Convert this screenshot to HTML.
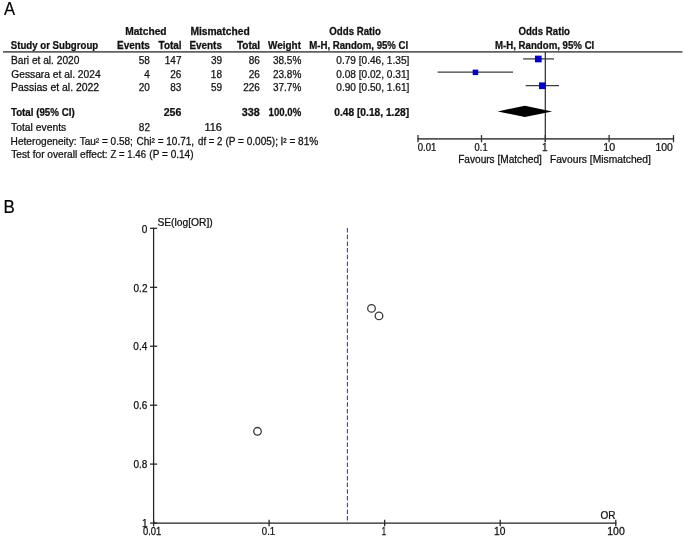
<!DOCTYPE html>
<html><head><meta charset="utf-8"><title>Forest and funnel plot</title>
<style>
html,body{margin:0;padding:0;background:#fff}
svg{display:block}
text{font-family:"Liberation Sans",sans-serif}
</style></head>
<body>
<svg width="685" height="538" viewBox="0 0 685 538">
<rect width="685" height="538" fill="#fff"/>
<line x1="3" y1="51.9" x2="682.4" y2="51.9" stroke="#606060" stroke-width="1.9"/>
<line x1="545.3" y1="52" x2="545.3" y2="141.8" stroke="#2a2a2a" stroke-width="1.2"/>
<line x1="417.4" y1="138.8" x2="674.1" y2="138.8" stroke="#555" stroke-width="1.7"/>
<line x1="418.0" y1="135.1" x2="418.0" y2="142.3" stroke="#333" stroke-width="1.3"/>
<line x1="481.5" y1="135.1" x2="481.5" y2="142.3" stroke="#333" stroke-width="1.3"/>
<line x1="545.3" y1="135.1" x2="545.3" y2="142.3" stroke="#333" stroke-width="1.3"/>
<line x1="609.1" y1="135.1" x2="609.1" y2="142.3" stroke="#333" stroke-width="1.3"/>
<line x1="673.5" y1="135.1" x2="673.5" y2="142.3" stroke="#333" stroke-width="1.3"/>
<line x1="523.1" y1="58.9" x2="554.0" y2="58.9" stroke="#3c3c3c" stroke-width="1.25"/>
<rect x="534.95" y="55.65" width="6.7" height="6.7" fill="#0000c8"/>
<line x1="437.6" y1="72.0" x2="513.0" y2="72.0" stroke="#3c3c3c" stroke-width="1.25"/>
<rect x="472.70" y="69.60" width="5.5" height="5.5" fill="#0000c8"/>
<line x1="525.7" y1="85.7" x2="559.0" y2="85.7" stroke="#3c3c3c" stroke-width="1.25"/>
<rect x="539.05" y="82.40" width="6.7" height="6.7" fill="#0000c8"/>
<polygon points="497.7,111.4 524.9,105.7 552.1,111.4 524.9,117.1" fill="#000"/>
<line x1="153.6" y1="227.7" x2="153.6" y2="523.7" stroke="#222" stroke-width="1.25"/>
<line x1="153.1" y1="523.1" x2="616.4" y2="523.1" stroke="#222" stroke-width="1.25"/>
<line x1="150.0" y1="228.3" x2="157.2" y2="228.3" stroke="#222" stroke-width="1.25"/>
<line x1="150.0" y1="287.3" x2="157.2" y2="287.3" stroke="#222" stroke-width="1.25"/>
<line x1="150.0" y1="346.2" x2="157.2" y2="346.2" stroke="#222" stroke-width="1.25"/>
<line x1="150.0" y1="405.2" x2="157.2" y2="405.2" stroke="#222" stroke-width="1.25"/>
<line x1="150.0" y1="464.1" x2="157.2" y2="464.1" stroke="#222" stroke-width="1.25"/>
<line x1="150.0" y1="523.1" x2="157.2" y2="523.1" stroke="#222" stroke-width="1.25"/>
<line x1="153.6" y1="519.7" x2="153.6" y2="526.3" stroke="#222" stroke-width="1.25"/>
<line x1="269.1" y1="519.7" x2="269.1" y2="526.3" stroke="#222" stroke-width="1.25"/>
<line x1="384.7" y1="519.7" x2="384.7" y2="526.3" stroke="#222" stroke-width="1.25"/>
<line x1="500.2" y1="519.7" x2="500.2" y2="526.3" stroke="#222" stroke-width="1.25"/>
<line x1="615.8" y1="519.7" x2="615.8" y2="526.3" stroke="#222" stroke-width="1.25"/>
<line x1="347.4" y1="228.0" x2="347.4" y2="523.1" stroke="#3a3ad8" stroke-width="1.1" stroke-dasharray="4.5 2.2"/>
<circle cx="371.5" cy="308.4" r="3.8" fill="none" stroke="#3a3a3a" stroke-width="1.3"/>
<circle cx="379.0" cy="315.9" r="3.8" fill="none" stroke="#3a3a3a" stroke-width="1.3"/>
<circle cx="257.5" cy="431.3" r="3.8" fill="none" stroke="#3a3a3a" stroke-width="1.3"/>
<text transform="translate(4.00 14.90) scale(0.8740 1)" font-size="19.0" fill="#000" stroke="#000" stroke-width="0.15">A</text>
<text transform="translate(3.54 213.20) scale(0.9100 1)" font-size="18.6" fill="#000" stroke="#000" stroke-width="0.2">B</text>
<text transform="translate(125.19 35.30) scale(1.0215 1)" font-size="10" font-weight="bold" fill="#111" stroke="#111" stroke-width="0.25">Matched</text>
<text transform="translate(190.38 35.30) scale(1.0285 1)" font-size="10" font-weight="bold" fill="#111" stroke="#111" stroke-width="0.25">Mismatched</text>
<text transform="translate(329.31 35.30) scale(0.9691 1)" font-size="10" font-weight="bold" fill="#111" stroke="#111" stroke-width="0.25">Odds Ratio</text>
<text transform="translate(518.41 35.30) scale(0.9691 1)" font-size="10" font-weight="bold" fill="#111" stroke="#111" stroke-width="0.25">Odds Ratio</text>
<text transform="translate(10.71 48.80) scale(0.9684 1)" font-size="10" font-weight="bold" fill="#111" stroke="#111" stroke-width="0.25">Study or Subgroup</text>
<text transform="translate(117.00 48.80) scale(1.0022 1)" font-size="10" font-weight="bold" fill="#111" stroke="#111" stroke-width="0.25">Events</text>
<text transform="translate(158.60 48.80) scale(0.9970 1)" font-size="10" font-weight="bold" fill="#111" stroke="#111" stroke-width="0.25">Total</text>
<text transform="translate(189.40 48.80) scale(0.9927 1)" font-size="10" font-weight="bold" fill="#111" stroke="#111" stroke-width="0.25">Events</text>
<text transform="translate(236.90 48.80) scale(1.0060 1)" font-size="10" font-weight="bold" fill="#111" stroke="#111" stroke-width="0.25">Total</text>
<text transform="translate(268.10 48.80) scale(0.9935 1)" font-size="10" font-weight="bold" fill="#111" stroke="#111" stroke-width="0.25">Weight</text>
<text transform="translate(309.22 48.80) scale(0.9645 1)" font-size="10" font-weight="bold" fill="#111" stroke="#111" stroke-width="0.25">M-H, Random, 95% CI</text>
<text transform="translate(494.92 48.80) scale(0.9684 1)" font-size="10" font-weight="bold" fill="#111" stroke="#111" stroke-width="0.25">M-H, Random, 95% CI</text>
<text transform="translate(10.99 64.30) scale(1.0181 1)" font-size="10" fill="#111" stroke="#111" stroke-width="0.25">Bari et al. 2020</text>
<text transform="translate(138.74 64.30) scale(1.0000 1)" font-size="10" fill="#111" stroke="#111" stroke-width="0.25">58</text>
<text transform="translate(164.78 64.30) scale(1.0000 1)" font-size="10" fill="#111" stroke="#111" stroke-width="0.25">147</text>
<text transform="translate(210.94 64.30) scale(1.0000 1)" font-size="10" fill="#111" stroke="#111" stroke-width="0.25">39</text>
<text transform="translate(248.74 64.30) scale(1.0000 1)" font-size="10" fill="#111" stroke="#111" stroke-width="0.25">86</text>
<text transform="translate(272.94 64.30) scale(1.0000 1)" font-size="10" fill="#111" stroke="#111" stroke-width="0.25">38.5%</text>
<text transform="translate(336.30 64.30) scale(1.0112 1)" font-size="10" fill="#111" stroke="#111" stroke-width="0.25">0.79 [0.46, 1.35]</text>
<text transform="translate(11.29 77.70) scale(1.0253 1)" font-size="10" fill="#111" stroke="#111" stroke-width="0.25">Gessara et al. 2024</text>
<text transform="translate(144.20 77.70) scale(1.0000 1)" font-size="10" fill="#111" stroke="#111" stroke-width="0.25">4</text>
<text transform="translate(170.24 77.70) scale(1.0000 1)" font-size="10" fill="#111" stroke="#111" stroke-width="0.25">26</text>
<text transform="translate(210.84 77.70) scale(1.0000 1)" font-size="10" fill="#111" stroke="#111" stroke-width="0.25">18</text>
<text transform="translate(248.74 77.70) scale(1.0000 1)" font-size="10" fill="#111" stroke="#111" stroke-width="0.25">26</text>
<text transform="translate(272.94 77.70) scale(1.0000 1)" font-size="10" fill="#111" stroke="#111" stroke-width="0.25">23.8%</text>
<text transform="translate(336.30 77.70) scale(1.0112 1)" font-size="10" fill="#111" stroke="#111" stroke-width="0.25">0.08 [0.02, 0.31]</text>
<text transform="translate(10.96 91.10) scale(1.0440 1)" font-size="10" fill="#111" stroke="#111" stroke-width="0.25">Passias et al. 2022</text>
<text transform="translate(138.74 91.10) scale(1.0000 1)" font-size="10" fill="#111" stroke="#111" stroke-width="0.25">20</text>
<text transform="translate(170.24 91.10) scale(1.0000 1)" font-size="10" fill="#111" stroke="#111" stroke-width="0.25">83</text>
<text transform="translate(210.94 91.10) scale(1.0000 1)" font-size="10" fill="#111" stroke="#111" stroke-width="0.25">59</text>
<text transform="translate(243.18 91.10) scale(1.0000 1)" font-size="10" fill="#111" stroke="#111" stroke-width="0.25">226</text>
<text transform="translate(272.94 91.10) scale(1.0000 1)" font-size="10" fill="#111" stroke="#111" stroke-width="0.25">37.7%</text>
<text transform="translate(336.30 91.10) scale(1.0112 1)" font-size="10" fill="#111" stroke="#111" stroke-width="0.25">0.90 [0.50, 1.61]</text>
<text transform="translate(10.90 115.70) scale(0.9762 1)" font-size="10" font-weight="bold" fill="#111" stroke="#111" stroke-width="0.25">Total (95% CI)</text>
<text transform="translate(163.68 115.70) scale(1.0610 1)" font-size="10" font-weight="bold" fill="#111" stroke="#111" stroke-width="0.25">256</text>
<text transform="translate(241.78 115.70) scale(1.0787 1)" font-size="10" font-weight="bold" fill="#111" stroke="#111" stroke-width="0.25">338</text>
<text transform="translate(268.62 115.70) scale(0.9600 1)" font-size="10" font-weight="bold" fill="#111" stroke="#111" stroke-width="0.25">100.0%</text>
<text transform="translate(334.29 115.70) scale(1.0213 1)" font-size="10" font-weight="bold" fill="#111" stroke="#111" stroke-width="0.25">0.48 [0.18, 1.28]</text>
<text transform="translate(11.09 131.10) scale(1.0347 1)" font-size="10" fill="#111" stroke="#111" stroke-width="0.25">Total events</text>
<text transform="translate(138.84 131.10) scale(1.0000 1)" font-size="10" fill="#111" stroke="#111" stroke-width="0.25">82</text>
<text transform="translate(204.43 131.10) scale(1.0954 1)" font-size="10" fill="#111" stroke="#111" stroke-width="0.25">116</text>
<text transform="translate(10.59 144.50) scale(1.0148 1)" font-size="10" fill="#111" stroke="#111" stroke-width="0.25">Heterogeneity:</text>
<text transform="translate(79.70 144.50) scale(1.0017 1)" font-size="10" fill="#111" stroke="#111" stroke-width="0.25">Tau² = 0.58;</text>
<text transform="translate(136.50 144.50) scale(1.0026 1)" font-size="10" fill="#111" stroke="#111" stroke-width="0.25">Chi² = 10.71,</text>
<text transform="translate(198.12 144.50) scale(0.9576 1)" font-size="10" fill="#111" stroke="#111" stroke-width="0.25">df = 2</text>
<text transform="translate(225.40 144.50) scale(1.0068 1)" font-size="10" fill="#111" stroke="#111" stroke-width="0.25">(P = 0.005);</text>
<text transform="translate(280.50 144.50) scale(1.0047 1)" font-size="10" fill="#111" stroke="#111" stroke-width="0.25">I² = 81%</text>
<text transform="translate(11.20 157.90) scale(1.0173 1)" font-size="10" fill="#111" stroke="#111" stroke-width="0.25">Test for overall effect:</text>
<text transform="translate(110.61 157.90) scale(0.9585 1)" font-size="10" fill="#111" stroke="#111" stroke-width="0.25">Z = 1.46</text>
<text transform="translate(149.30 157.90) scale(1.0079 1)" font-size="10" fill="#111" stroke="#111" stroke-width="0.25">(P = 0.14)</text>
<text transform="translate(417.71 150.90) scale(0.9625 1)" font-size="10" fill="#111" stroke="#111" stroke-width="0.25">0.01</text>
<text transform="translate(474.62 150.90) scale(0.9361 1)" font-size="10" fill="#111" stroke="#111" stroke-width="0.25">0.1</text>
<text transform="translate(542.10 150.90) scale(1.0000 1)" font-size="10" fill="#111" stroke="#111" stroke-width="0.25">1</text>
<text transform="translate(603.25 150.90) scale(1.0734 1)" font-size="10" fill="#111" stroke="#111" stroke-width="0.25">10</text>
<text transform="translate(655.47 150.90) scale(1.0433 1)" font-size="10" fill="#111" stroke="#111" stroke-width="0.25">100</text>
<text transform="translate(458.19 163.30) scale(1.0106 1)" font-size="10" fill="#111" stroke="#111" stroke-width="0.25">Favours [Matched]</text>
<text transform="translate(549.88 163.30) scale(1.0290 1)" font-size="10" fill="#111" stroke="#111" stroke-width="0.25">Favours [Mismatched]</text>
<text transform="translate(141.80 232.50) scale(1.0000 1)" font-size="10" fill="#111" stroke="#111" stroke-width="0.25">0</text>
<text transform="translate(133.56 291.50) scale(1.0000 1)" font-size="10" fill="#111" stroke="#111" stroke-width="0.25">0.2</text>
<text transform="translate(133.36 350.40) scale(1.0000 1)" font-size="10" fill="#111" stroke="#111" stroke-width="0.25">0.4</text>
<text transform="translate(133.46 409.40) scale(1.0000 1)" font-size="10" fill="#111" stroke="#111" stroke-width="0.25">0.6</text>
<text transform="translate(133.46 468.30) scale(1.0000 1)" font-size="10" fill="#111" stroke="#111" stroke-width="0.25">0.8</text>
<text transform="translate(141.90 527.30) scale(1.0000 1)" font-size="10" fill="#111" stroke="#111" stroke-width="0.25">1</text>
<text transform="translate(142.92 535.40) scale(0.9411 1)" font-size="10" fill="#111" stroke="#111" stroke-width="0.25">0.01</text>
<text transform="translate(261.81 535.40) scale(0.9589 1)" font-size="10" fill="#111" stroke="#111" stroke-width="0.25">0.1</text>
<text transform="translate(381.86 535.40) scale(0.7727 1)" font-size="10" fill="#111" stroke="#111" stroke-width="0.25">1</text>
<text transform="translate(493.98 535.40) scale(1.0237 1)" font-size="10" fill="#111" stroke="#111" stroke-width="0.25">10</text>
<text transform="translate(607.27 535.40) scale(1.0497 1)" font-size="10" fill="#111" stroke="#111" stroke-width="0.25">100</text>
<text transform="translate(157.39 225.90) scale(1.0270 1)" font-size="10" fill="#111" stroke="#111" stroke-width="0.25">SE(log[OR])</text>
<text transform="translate(600.40 518.60) scale(1.0015 1)" font-size="10" fill="#111" stroke="#111" stroke-width="0.25">OR</text>
</svg>
</body></html>
